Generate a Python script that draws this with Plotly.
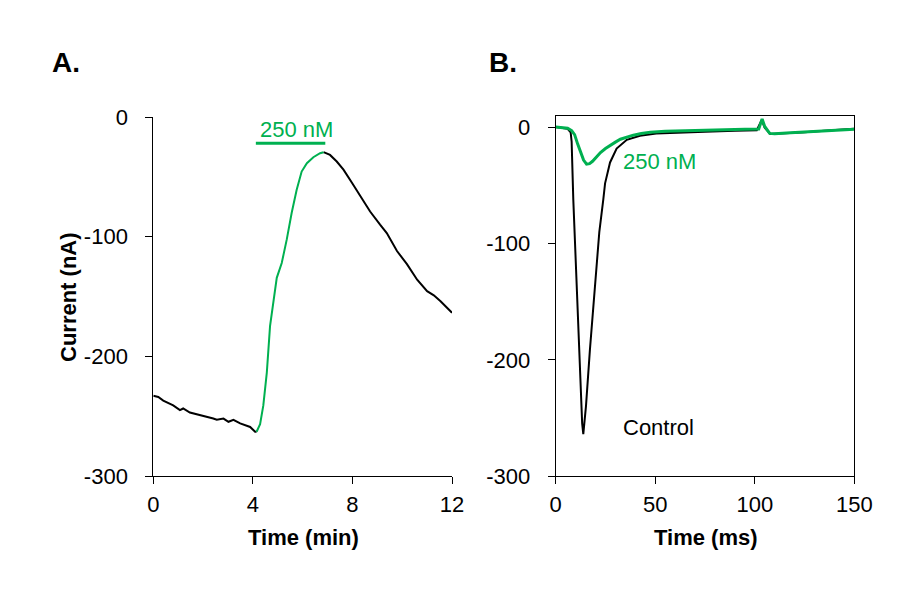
import plotly.graph_objects as go

# Panel A - current vs time (min), black baseline / green during 250 nM / black washout
a_t_pre = [0, 0.2, 0.4, 0.8, 1.07, 1.2, 1.47, 1.88, 2.41, 2.55, 2.82, 3.02, 3.22, 3.49, 3.89, 4.09, 4.15]
a_i_pre = [-233, -234, -237, -241, -245, -243.6, -247, -249, -252, -253, -252, -254.7, -253, -256, -259, -263, -263]
a_t_drug = [4.15, 4.29, 4.42, 4.56, 4.69, 4.83, 4.96, 5.16, 5.36, 5.56, 5.76, 5.96, 6.17, 6.43, 6.70, 6.84]
a_i_drug = [-263, -256.7, -241, -213.6, -174.7, -152.5, -134.4, -122, -102.5, -80, -60.8, -45.6, -38.6, -33.6, -30.3, -29.4]
a_t_post = [6.84, 7.1, 7.37, 7.64, 7.98, 8.31, 8.71, 9.11, 9.38, 9.79, 10.19, 10.6, 11.0, 11.27, 11.54, 12.0]
a_i_post = [-29.4, -31.7, -37.2, -44, -55, -66, -79, -90, -97, -112, -123, -136, -145.6, -149, -154, -163.6]
a_bar_t = [4.12, 6.91]
a_bar_i = [-21.9, -21.9]

# Panel B - current traces (ms)
b_t_ctrl = [0, 3, 6, 7.5, 8.0, 8.84, 10.2, 11.35, 12.56, 13.3, 13.86, 14.4, 15.2, 17.2, 19.7, 21.9,
            23.9, 24.8, 27.3, 30.6, 35.7, 42.3, 50.5, 60, 75, 90, 101, 103.5, 105, 107.8, 115, 125, 135, 143, 150]
b_i_ctrl = [0.5, 0, -1, -4, -12, -62, -119, -176, -234, -255, -264, -255, -240, -191, -133, -90,
            -62, -48, -30, -18, -10.5, -7, -5, -4.2, -3.5, -2.8, -2.3, 6.5, 0, -5.4, -5, -4, -2.6, -2, -1]
b_t_drug = [0, 3, 6, 8, 9.5, 11, 12.5, 14, 15.5, 17, 18.5, 20.5, 22.5, 25, 27.5, 30, 32.5, 36, 39, 43,
            47.5, 55, 65, 75, 85, 95, 102, 103.7, 105, 107.5, 110, 118, 126, 135, 143, 150]
b_i_drug = [0.5, 0, -0.5, -2.5, -6, -14, -22, -28, -31.5, -31, -29, -25, -21.5, -18, -15, -12.5, -10, -8, -6.5, -5,
            -4, -3.2, -2.6, -2.2, -1.8, -1.5, -1.3, 7.5, 1, -5, -5.3, -4.5, -3.8, -3, -2.3, -1.5]

a_xticks = [0, 4, 8, 12]
b_xticks = [0, 50, 100, 150]
yticks = [0, -100, -200, -300]

GREEN = "#00B050"
FONT = "Liberation Sans, Arial, sans-serif"
W, H = 924, 601
OFF = 8  # page body margin


def px(x):
    return (x - OFF) / W


def py(y):
    return 1 - (y - OFF) / H


fig = go.Figure()
fig.add_trace(go.Scatter(x=a_t_pre, y=a_i_pre, mode="lines", line=dict(color="black", width=2),
                         xaxis="x", yaxis="y"))
fig.add_trace(go.Scatter(x=a_t_post, y=a_i_post, mode="lines", line=dict(color="black", width=2),
                         xaxis="x", yaxis="y"))
fig.add_trace(go.Scatter(x=a_t_drug, y=a_i_drug, mode="lines", line=dict(color=GREEN, width=2),
                         xaxis="x", yaxis="y"))
fig.add_trace(go.Scatter(x=a_bar_t, y=a_bar_i, mode="lines", line=dict(color=GREEN, width=3),
                         xaxis="x", yaxis="y"))
fig.add_trace(go.Scatter(x=b_t_ctrl, y=b_i_ctrl, mode="lines", line=dict(color="black", width=2),
                         xaxis="x2", yaxis="y2"))
fig.add_trace(go.Scatter(x=b_t_drug, y=b_i_drug, mode="lines", line=dict(color=GREEN, width=3),
                         xaxis="x2", yaxis="y2"))

ax = dict(showline=True, linecolor="black", linewidth=1, ticks="outside", ticklen=7,
          tickcolor="black", showgrid=False, zeroline=False, automargin=False,
          tickfont=dict(family=FONT, size=22, color="black"))
xa = dict(ax, ticklabelstandoff=2)
ya = dict(ax, ticklabelstandoff=13)

fig.update_layout(
    width=W, height=H, margin=dict(l=0, r=0, t=0, b=0),
    paper_bgcolor="white", plot_bgcolor="white", showlegend=False,
    xaxis=dict(xa, domain=[px(153.3), px(452)], range=[0, 12], anchor="y",
               tickvals=a_xticks, ticktext=[str(v) for v in a_xticks]),
    yaxis=dict(ya, domain=[py(476), py(117)], range=[-300, 0], anchor="x",
               tickvals=yticks, ticktext=[str(v) for v in yticks]),
    xaxis2=dict(xa, domain=[px(555.7), px(854.3)], range=[0, 150], anchor="y2", mirror=True,
                tickvals=b_xticks, ticktext=[str(v) for v in b_xticks]),
    yaxis2=dict(ya, domain=[py(476), py(116)], range=[-300, 10], anchor="x2", mirror=True,
                tickvals=yticks, ticktext=[str(v) for v in yticks]),
)

bold = dict(family=FONT, size=22, color="black")
big = dict(family=FONT, size=28, color="black")
notes = [
    dict(text="<b>A.</b>", x=px(50), y=py(62), xanchor="left", font=big),
    dict(text="<b>B.</b>", x=px(487), y=py(62), xanchor="left", font=big),
    dict(text="<b>Time (min)</b>", x=px(303), y=py(537), xanchor="center", font=bold),
    dict(text="<b>Time (ms)</b>", x=px(706), y=py(537), xanchor="center", font=bold),
    dict(text="<b>Current (nA)</b>", x=px(68), y=py(297), xanchor="center", textangle=-90, font=bold),
]
for n in notes:
    fig.add_annotation(xref="paper", yref="paper", showarrow=False, yanchor="middle", **n)

fig.add_annotation(x=5.74, y=-10.8, xref="x", yref="y", text="250 nM", showarrow=False,
                   font=dict(family=FONT, size=22, color=GREEN))
fig.add_annotation(x=52.3, y=-29.4, xref="x2", yref="y2", text="250 nM", showarrow=False,
                   font=dict(family=FONT, size=22, color=GREEN))
fig.add_annotation(x=51.4, y=-258, xref="x2", yref="y2", text="Control", showarrow=False,
                   font=dict(family=FONT, size=22, color="black"))

fig.write_html("out.html")
